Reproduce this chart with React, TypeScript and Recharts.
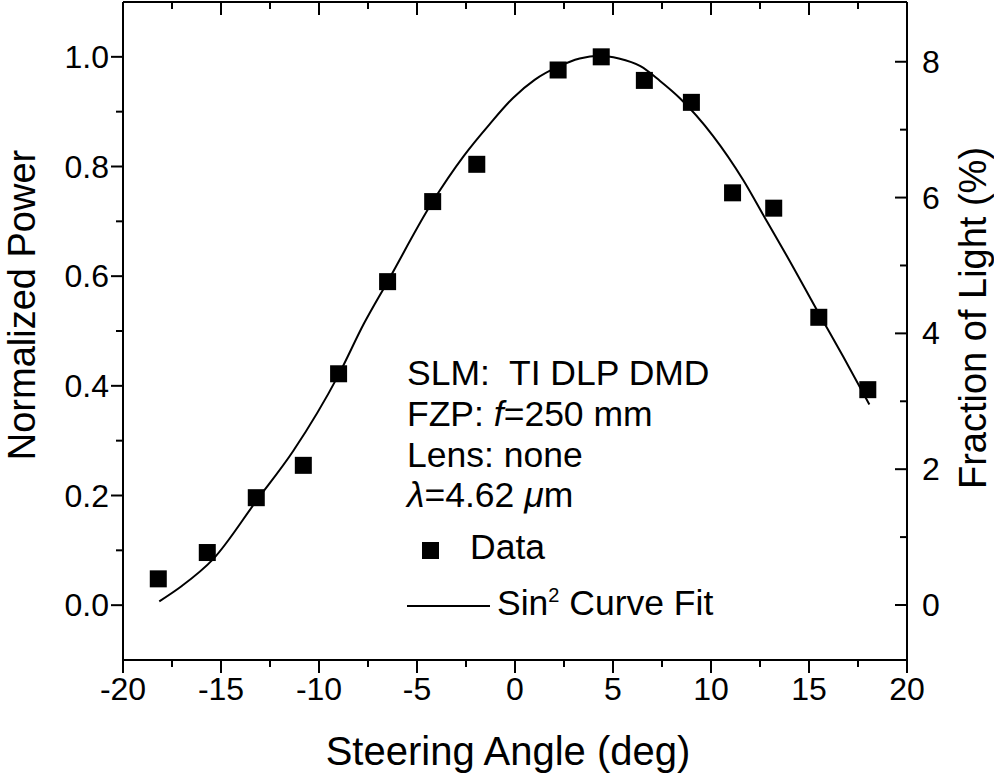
import React from "react";
import { ComposedChart, Scatter, Line, XAxis, YAxis, Legend } from "recharts";

// measured points (steering angle in deg, normalized power)
const angleDeg = [-18.2, -15.7, -13.2, -10.8, -9.0, -6.5, -4.2, -1.95, 2.2, 4.4, 6.6, 9.0, 11.1, 13.2, 15.5, 18.0];
const powerNorm = [0.048, 0.096, 0.196, 0.255, 0.422, 0.59, 0.736, 0.804, 0.976, 1.0, 0.957, 0.917, 0.752, 0.724, 0.525, 0.393];

// sin^2 fit
const fitAngleDeg = [-18.15, -17, -15.4, -13.2, -11.3, -9.0, -7.7, -6.5, -4.2, -2.6, -1.3, -0.1, 1.0, 2.2, 3.3, 4.3, 5.3, 6.4, 7.4, 8.4, 10.1, 11.65, 12.85, 13.9, 15.5, 16.75, 18.08];
const fitPowerNorm = [0.007, 0.035, 0.084, 0.19, 0.282, 0.42, 0.514, 0.59, 0.736, 0.82, 0.877, 0.925, 0.958, 0.982, 0.997, 1.002, 0.997, 0.983, 0.956, 0.925, 0.856, 0.775, 0.7, 0.635, 0.532, 0.453, 0.366];

const xTicks = [-20, -17.5, -15, -12.5, -10, -7.5, -5, -2.5, 0, 2.5, 5, 7.5, 10, 12.5, 15, 17.5, 20];
const leftTicks = [0, 0.1, 0.2, 0.3, 0.4, 0.5, 0.6, 0.7, 0.8, 0.9, 1.0];
const rightTicks = [0, 1, 2, 3, 4, 5, 6, 7, 8];

const seriesNames = ["Data", "Curve Fit"];

const FONT = '"Liberation Sans", Arial, Helvetica, sans-serif';
const TICK_FS = 32;

const dataPoints = angleDeg.map((x, i) => ({ x, y: powerNorm[i] }));
const fitPoints = fitAngleDeg.map((x, i) => ({ x, y: fitPowerNorm[i] }));

function BottomTick({ x, y, payload }: any) {
  const v = payload.value;
  const major = Math.abs(v % 5) < 1e-6;
  return (
    <g>
      <line x1={x} x2={x} y1={y} y2={y + (major ? 13 : 7)} stroke="#000" strokeWidth={2} />
      {major && (
        <text x={x} y={y + 40} textAnchor="middle" fontSize={TICK_FS} fontFamily={FONT} fill="#000">
          {v}
        </text>
      )}
    </g>
  );
}

function TopTick({ x, y, payload }: any) {
  const major = Math.abs(payload.value % 5) < 1e-6;
  return <line x1={x} x2={x} y1={y} y2={y + (major ? 13 : 7)} stroke="#000" strokeWidth={2} />;
}

function LeftTick({ x, y, payload }: any) {
  const v = payload.value;
  const major = Math.round(v * 10) % 2 === 0;
  return (
    <g>
      <line x1={x - (major ? 12 : 7)} x2={x} y1={y} y2={y} stroke="#000" strokeWidth={2} />
      {major && (
        <text x={x - 14} y={y + 11} textAnchor="end" fontSize={TICK_FS} fontFamily={FONT} fill="#000">
          {v.toFixed(1)}
        </text>
      )}
    </g>
  );
}

function RightTick({ x, y, payload }: any) {
  const v = payload.value;
  const major = v % 2 === 0;
  return (
    <g>
      <line x1={x - (major ? 12 : 7)} x2={x} y1={y} y2={y} stroke="#000" strokeWidth={2} />
      {major && (
        <text x={x + 15} y={y + 11} textAnchor="start" fontSize={TICK_FS} fontFamily={FONT} fill="#000">
          {v}
        </text>
      )}
    </g>
  );
}

function SquareDot({ cx, cy }: any) {
  return <rect x={cx - 8.5} y={cy - 8.5} width={17} height={17} fill="#000" />;
}

function NoteLegend() {
  const row = (top: number, content: React.ReactNode) => (
    <div style={{ position: "absolute", left: 0, top, whiteSpace: "pre" }}>{content}</div>
  );
  return (
    <div style={{ position: "relative", width: 340, height: 280, fontFamily: FONT, fontSize: 35.5, lineHeight: "40px", color: "#000" }}>
      {row(0, "SLM:  TI DLP DMD")}
      {row(41, <>FZP: <i>f</i>=250 mm</>)}
      {row(82, "Lens: none")}
      {row(122, <><i>λ</i>=4.62 <i>μ</i>m</>)}
      {row(174, (
        <>
          <span style={{ display: "inline-block", width: 17, height: 17, background: "#000", marginLeft: 15, marginRight: 31 }} />
          {seriesNames[0]}
        </>
      ))}
      {row(230, (
        <>
          <span style={{ display: "inline-block", width: 83, height: 0, borderTop: "2px solid #000", verticalAlign: "middle", marginRight: 7 }} />
          Sin<sup style={{ fontSize: 20, lineHeight: 0 }}>2</sup> {seriesNames[1]}
        </>
      ))}
    </div>
  );
}

const titleStyle: React.CSSProperties = {
  position: "absolute",
  fontFamily: FONT,
  fontSize: 38,
  color: "#000",
  whiteSpace: "nowrap",
  lineHeight: 1,
};

export default function App() {
  return (
    <div style={{ position: "absolute", left: 0, top: 0, width: 994, height: 777, background: "#fff" }}>
      <ComposedChart width={994} height={777} margin={{ top: 1, right: 86, bottom: 116, left: 122 }}>
        <XAxis
          dataKey="x"
          type="number"
          domain={[-20, 20]}
          ticks={xTicks}
          interval={0}
          allowDataOverflow
          height={1}
          tickSize={0}
          tickMargin={0}
          tickLine={false}
          axisLine={{ stroke: "#000", strokeWidth: 2 }}
          tick={(p: any) => <BottomTick {...p} />}
        />
        <XAxis
          xAxisId="top"
          orientation="top"
          dataKey="x"
          type="number"
          domain={[-20, 20]}
          ticks={xTicks}
          interval={0}
          allowDataOverflow
          height={1}
          tickSize={0}
          tickMargin={0}
          tickLine={false}
          axisLine={{ stroke: "#000", strokeWidth: 2 }}
          tick={(p: any) => <TopTick {...p} />}
        />
        <YAxis
          dataKey="y"
          type="number"
          domain={[-0.1, 1.1]}
          ticks={leftTicks}
          interval={0}
          allowDataOverflow
          width={1}
          tickSize={0}
          tickMargin={0}
          tickLine={false}
          axisLine={{ stroke: "#000", strokeWidth: 2 }}
          tick={(p: any) => <LeftTick {...p} />}
        />
        <YAxis
          yAxisId="right"
          orientation="right"
          type="number"
          domain={[-0.81, 8.88]}
          ticks={rightTicks}
          interval={0}
          allowDataOverflow
          width={1}
          tickSize={0}
          tickMargin={0}
          tickLine={false}
          axisLine={{ stroke: "#000", strokeWidth: 2 }}
          tick={(p: any) => <RightTick {...p} />}
        />
        <Line
          data={fitPoints}
          xAxisId="top"
          dataKey="y"
          name={seriesNames[1]}
          type="monotone"
          stroke="#000"
          strokeWidth={2}
          dot={false}
          activeDot={false}
          isAnimationActive={false}
        />
        <Scatter
          data={dataPoints}
          dataKey="y"
          name={seriesNames[0]}
          fill="#000"
          shape={(p: any) => <SquareDot {...p} />}
          isAnimationActive={false}
        />
        <Legend
          layout="vertical"
          align="center"
          verticalAlign="middle"
          wrapperStyle={{ left: 407, top: 353, width: 340 }}
          content={() => <NoteLegend />}
        />
      </ComposedChart>
      <div style={{ ...titleStyle, fontSize: 40, left: 508, top: 751, transform: "translate(-50%, -50%)" }}>Steering Angle (deg)</div>
      <div style={{ ...titleStyle, left: 22, top: 305, transform: "translate(-50%, -50%) rotate(-90deg)" }}>Normalized Power</div>
      <div style={{ ...titleStyle, left: 973, top: 318, transform: "translate(-50%, -50%) rotate(-90deg)" }}>Fraction of Light (%)</div>
    </div>
  );
}
